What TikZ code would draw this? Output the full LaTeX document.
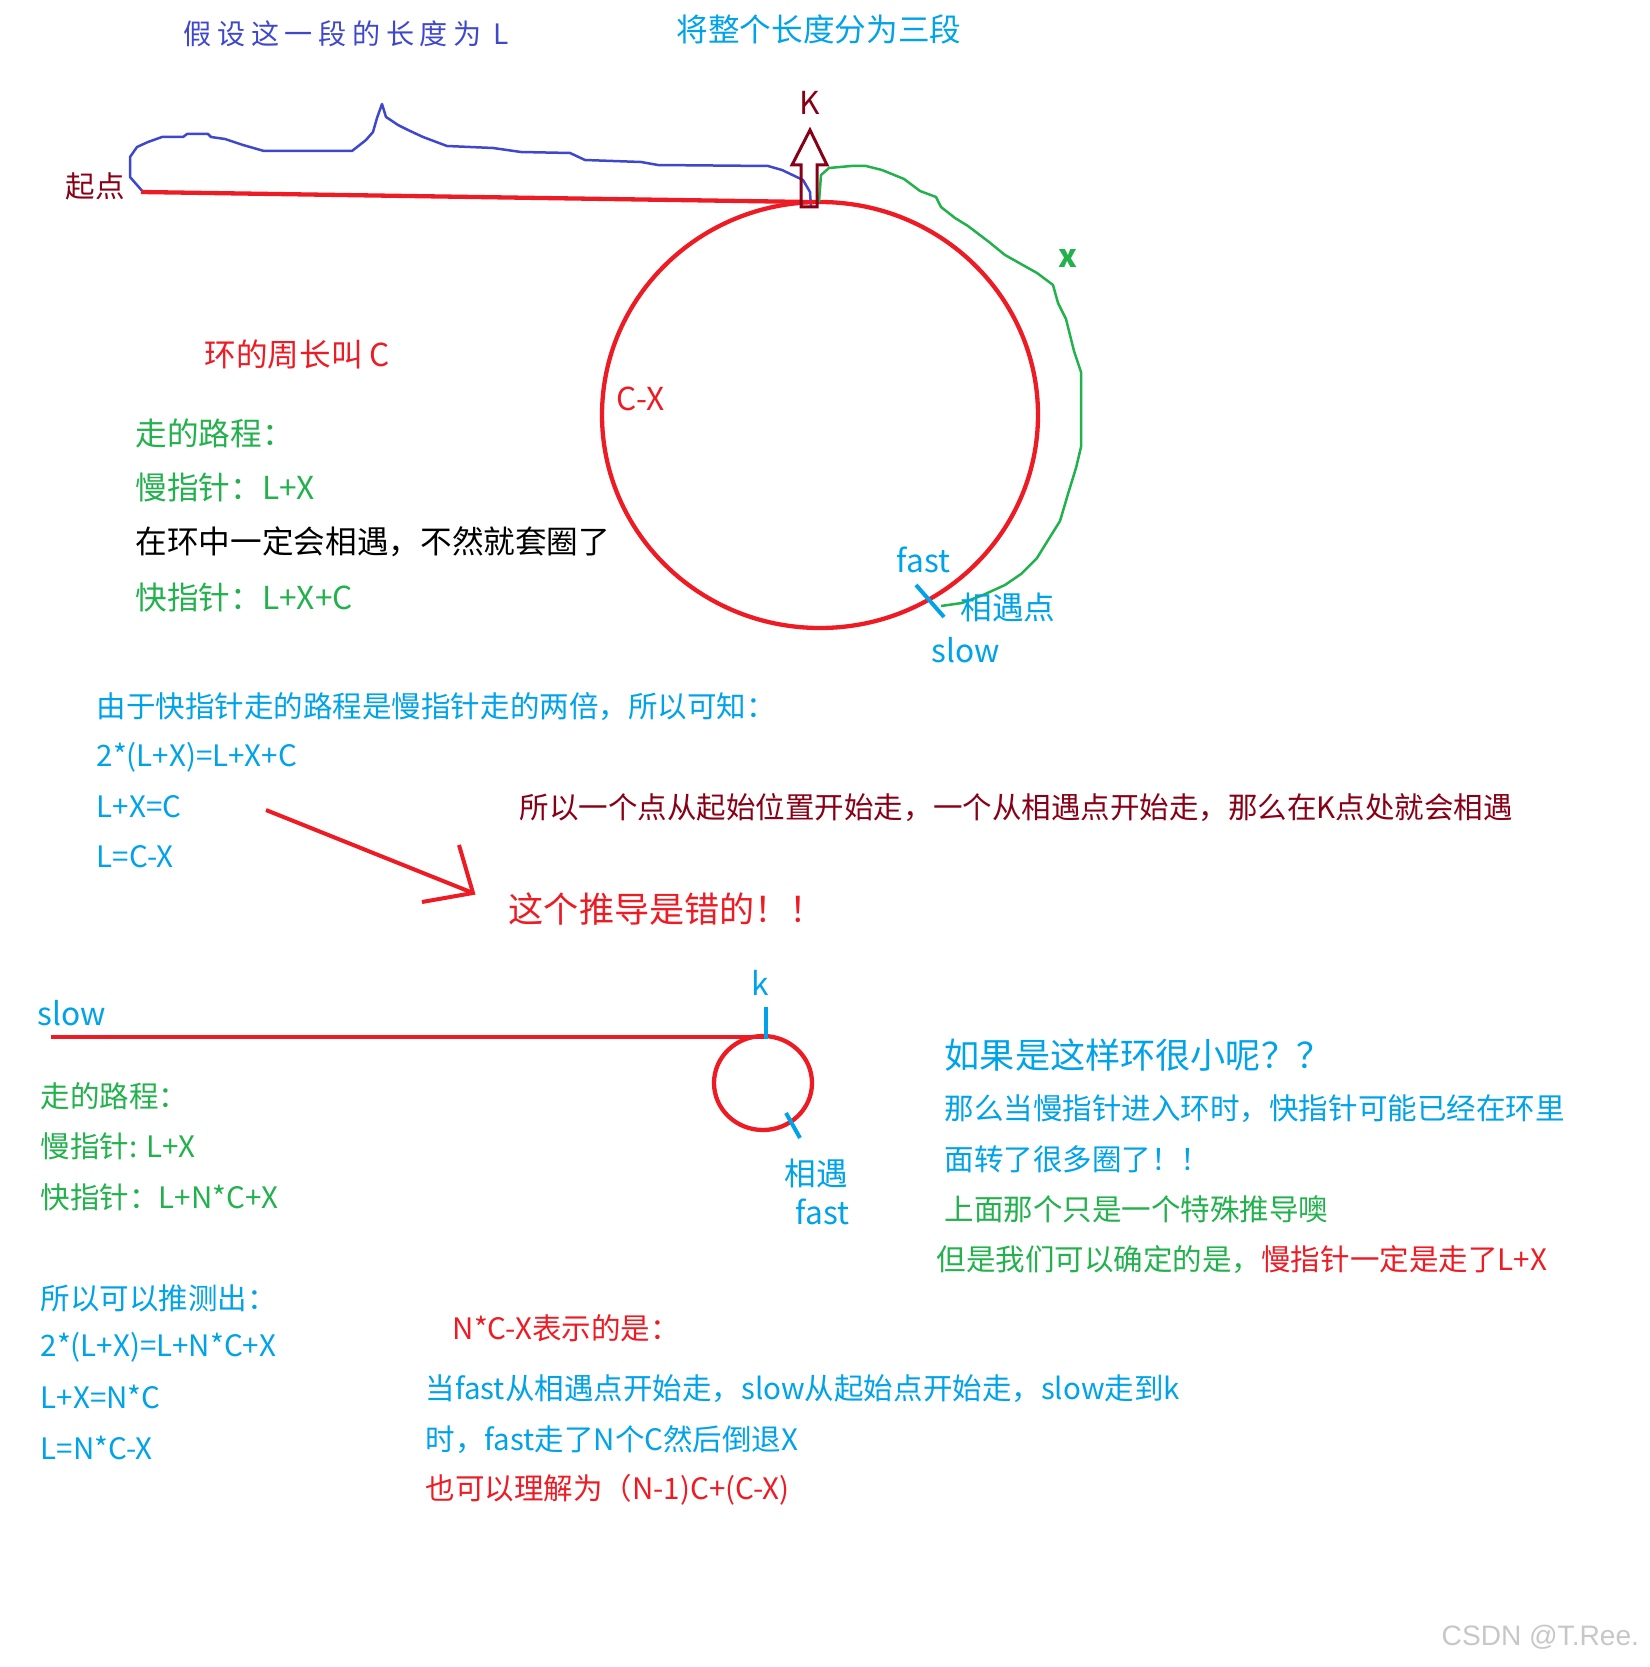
\documentclass[tikz,border=0pt]{standalone}
\usepackage{fontspec}
\setmainfont{Noto Sans CJK SC}
\newfontfamily\wmfont{Liberation Sans}
\definecolor{lpCyan}{HTML}{00A2E8}
\definecolor{lpRed}{HTML}{ED1C24}
\definecolor{lpGreen}{HTML}{22B14C}
\definecolor{lpWine}{HTML}{880015}
\definecolor{lpBlue}{HTML}{3F48CC}
\newcommand{\fs}[1]{\fontsize{#1}{#1}\selectfont}
\tikzset{
  lptext/.style={anchor=west, inner sep=0pt, text=#1, font=\fs{9pt}},
  lpsmall/.style={anchor=west, inner sep=0pt, text=#1, font=\fs{8.4pt}},
  lpbig/.style={anchor=west, inner sep=0pt, text=#1, font=\fs{10pt}},
  lplabel/.style={inner sep=0pt, text=#1, font=\fs{9pt}},
  lpring/.style={draw=lpRed, line width=0.43mm},
  lptick/.style={draw=lpCyan, line width=0.4mm},
  lpsketch/.style={draw=#1, line width=0.25mm, line join=round},
}

\begin{document}
\begin{tikzpicture}[x=0.1mm, y=-0.1mm]
  \useasboundingbox (0,0) rectangle (1649,1667);

  % --- Top: the list with its loop ---------------------------------------
  \node[lptext=lpBlue, font=\fs{8pt}\addfontfeature{LetterSpace=20}]
        (lenL)  at (183,34)  {假设这一段的长度为 L};
  \node[lptext=lpCyan]   (split)  at (676,29)  {将整个长度分为三段};
  \node[lplabel=lpWine]  (K)      at (810,103) {K};
  \node[lpsmall=lpWine]  (start)  at (65,186)  {起点};

  \draw[lpsketch=lpBlue] plot coordinates {(144,193) (130,177) (130,157)
    (137,147) (148,142) (162,137) (183,137) (187,134) (208,134) (211,137)
    (225,139) (243,145) (264,151) (352,151) (366,140) (373,132) (377,118)
    (382,104) (386,117) (398,125) (408,130) (423,137) (447,146) (493,148)
    (521,152) (570,153) (585,160) (641,162) (658,165) (768,166) (782,170)
    (803,180) (810,192) (811,207)};

  \draw[lpring] (141,192) -- (808,202);
  \draw[lpring] (820,415) ellipse [x radius=218, y radius=213];

  \draw[lpsketch=lpGreen] plot coordinates {(819,202) (821,175) (829,168)
    (851,166) (866,166) (882,170) (904,179) (920,191) (936,197) (941,207)
    (955,218) (968,226) (989,242) (1005,255) (1021,264) (1037,273)
    (1053,285) (1058,303) (1066,319) (1074,351) (1081,372) (1081,447)
    (1076,468) (1068,494) (1060,521) (1050,537) (1037,558) (1021,574)
    (1005,585) (983,595) (962,603) (941,606)};

  % hollow arrow pointing at K
  \draw[lpWine, line width=0.3mm, line join=miter] (801,207) -- (801,165)
    -- (792,165) -- (810,130) -- (827,165) -- (817,165) -- (817,207) -- cycle;

  \node[lplabel=lpGreen, font=\fs{9pt}\bfseries] (x) at (1068,258) {x};
  \node[lptext=lpRed]    (cx)     at (616,399) {C-X};
  \node[lptext=lpCyan]   (fast1)  at (896,560) {fast};
  \node[lptext=lpCyan]   (meetpt) at (960,607) {相遇点};
  \node[lptext=lpCyan]   (slow1)  at (931,650) {slow};
  \draw[lptick] (916,585) -- (944,617);

  \node[lptext=lpRed]    (perim)  at (204,355) {环的周长叫 C};
  \node[lptext=lpGreen]  (walk)   at (135,433) {走的路程：};
  \node[lptext=lpGreen]  (slowA)  at (135,487) {慢指针：L+X};
  \node[lptext=black]    (meet)   at (135,542) {在环中一定会相遇，不然就套圈了};
  \node[lptext=lpGreen]  (fastA)  at (135,598) {快指针：L+X+C};

  % --- Middle: the first derivation --------------------------------------
  \node[lpsmall=lpCyan]  (since)  at (96,707)  {由于快指针走的路程是慢指针走的两倍，所以可知：};
  \node[lpsmall=lpCyan]  (eq1)    at (96,757)  {2*(L+X)=L+X+C};
  \node[lpsmall=lpCyan]  (eq2)    at (96,807)  {L+X=C};
  \node[lpsmall=lpCyan]  (eq3)    at (96,857)  {L=C-X};
  \node[lpsmall=lpWine]  (concl)  at (519,808) {所以一个点从起始位置开始走，一个从相遇点开始走，那么在K点处就会相遇};
  \node[lpbig=lpRed]     (wrong)  at (508,909) {这个推导是错的！！};

  \coordinate (arrS) at (266,810);
  \coordinate (arrE) at (473,893);
  \draw[lpRed, line width=0.4mm] (arrS) -- (arrE);
  \draw[lpRed, line width=0.4mm, line join=miter] (459,845) -- (arrE) -- (422,902);

  % --- Bottom: a small loop ----------------------------------------------
  \node[lptext=lpCyan]   (slow2)  at (37,1013)  {slow};
  \node[lplabel=lpCyan]  (k2)     at (760,983)  {k};
  \draw[lpring] (51,1037) -- (766,1037);
  \draw[lpring] (763,1083) ellipse [x radius=49, y radius=47];
  \draw[lptick] (766,1007) -- (766,1039);
  \draw[lptick] (786,1113) -- (800,1138);
  \node[lptext=lpCyan]   (meet2)  at (784,1173) {相遇};
  \node[lptext=lpCyan]   (fast2)  at (795,1212) {fast};

  \node[lpsmall=lpGreen] (walk2)  at (40,1096) {走的路程：};
  \node[lpsmall=lpGreen] (slowB)  at (40,1146) {慢指针: L+X};
  \node[lpsmall=lpGreen] (fastB)  at (40,1197) {快指针：L+N*C+X};

  \node[lpsmall=lpCyan]  (infer)  at (40,1298)  {所以可以推测出：};
  \node[lpsmall=lpCyan]  (eq4)    at (40,1347)  {2*(L+X)=L+N*C+X};
  \node[lpsmall=lpCyan]  (eq5)    at (40,1397)  {L+X=N*C};
  \node[lpsmall=lpCyan]  (eq6)    at (40,1448)  {L=N*C-X};

  \node[lpsmall=lpRed]   (means)  at (452,1328) {N*C-X表示的是：};
  \node[lpsmall=lpCyan]  (when1)  at (425,1389) {当fast从相遇点开始走，slow从起始点开始走，slow走到k};
  \node[lpsmall=lpCyan]  (when2)  at (425,1440) {时，fast走了N个C然后倒退X};
  \node[lpsmall=lpRed]   (alt)    at (425,1490) {也可以理解为（N-1)C+(C-X)};

  \node[lpbig=lpCyan]    (small)  at (944,1055) {如果是这样环很小呢？？};
  \node[lpsmall=lpCyan]  (then1)  at (944,1109) {那么当慢指针进入环时，快指针可能已经在环里};
  \node[lpsmall=lpCyan]  (then2)  at (944,1159) {面转了很多圈了！！};
  \node[lpsmall=lpGreen] (special) at (944,1209) {上面那个只是一个特殊推导噢};
  \node[lpsmall=lpGreen] (sure)   at (936,1260) {但是我们可以确定的是，\textcolor{lpRed}{慢指针一定是走了L+X}};

  \node[anchor=west, inner sep=0pt, text=black!22, font=\wmfont\fs{8pt}]
        (wm) at (1441,1637) {CSDN @T.Ree.};
\end{tikzpicture}
\end{document}
